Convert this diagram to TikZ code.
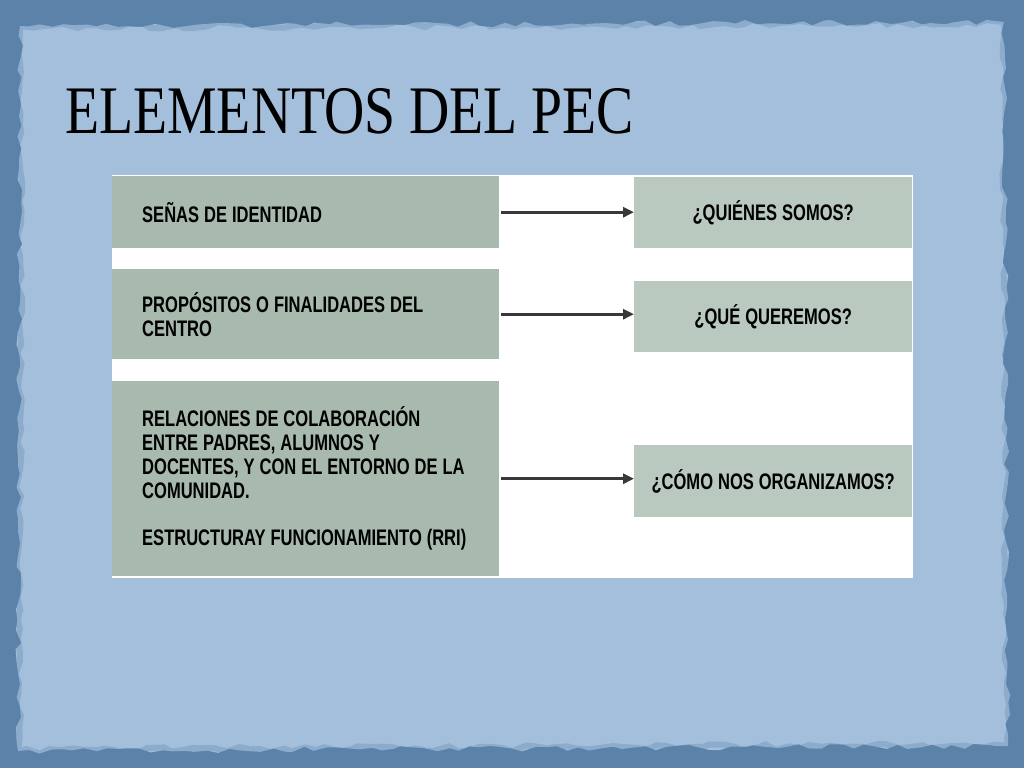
\documentclass[tikz,border=0pt]{standalone}
\usepackage{fontspec}
\usetikzlibrary{arrows.meta,decorations.pathmorphing}
\newfontfamily\titlefont[FakeStretch=0.82]{Liberation Serif}
\newfontfamily\boxfont[FakeStretch=0.735]{Liberation Sans}
\definecolor{outerblue}{HTML}{5B83AA}
\definecolor{paperblue}{HTML}{A3BFDC}
\definecolor{leftgray}{HTML}{A8BAAE}
\definecolor{rightgray}{HTML}{B9C9BF}
\definecolor{arrowgray}{HTML}{383838}
\begin{document}
\begin{tikzpicture}[x=1pt,y=-1pt]

	\tikzstyle{l-box}=[fill=leftgray,anchor=north west,minimum width=387pt,text width=327pt,inner xsep=30pt,inner ysep=0pt,align=flush left,font=\boxfont\bfseries\fontsize{22.5}{24}\selectfont,execute at begin node={\spaceskip=0.22em\relax}]
	\tikzstyle{r-box}=[fill=rightgray,anchor=north west,minimum width=278pt,text width=260pt,inner xsep=9pt,inner ysep=0pt,align=center,font=\boxfont\bfseries\fontsize{22.5}{24}\selectfont,execute at begin node={\spaceskip=0.22em\relax}]
	\tikzstyle{link}=[draw=arrowgray,line width=3pt,shorten <=2pt,-{Triangle[length=11pt,width=10pt]}]
	\tikzstyle{ragged}=[decorate,decoration={random steps,segment length=11pt,amplitude=3pt}]

	% background
	\useasboundingbox (0,0) rectangle (1024,768);
	\fill[outerblue] (0,0) rectangle (1024,768);
	\fill[paperblue,ragged] (20,26) -- (1004,22) -- (1008,746) -- (18,751) -- cycle;
	\draw[outerblue,line width=6pt,opacity=0.3,ragged] (20,26) -- (1004,22) -- (1008,746) -- (18,751) -- cycle;

	% title
	\node[anchor=base west,inner sep=0pt,font=\titlefont\fontsize{68}{68}\selectfont] (title) at (65,133) {ELEMENTOS DEL PEC};

	% chart
	\fill[white] (112,175) rectangle (913,578);

	% left column
	\node[l-box,minimum height=72pt]	(l1)	at (112,176)	{SEÑAS DE IDENTIDAD};
	\node[l-box,minimum height=90pt]	(l2)	at (112,269)	{PROPÓSITOS O FINALIDADES DEL\\CENTRO};
	\node[l-box,minimum height=195pt]	(l3)	at (112,381)	{RELACIONES DE COLABORACIÓN\\ENTRE PADRES, ALUMNOS Y\\DOCENTES, Y CON EL ENTORNO DE LA\\COMUNIDAD.\\[23pt]ESTRUCTURAY FUNCIONAMIENTO (RRI)};

	% right column
	\node[r-box,minimum height=71pt]	(r1)	at (634,177)	{¿QUIÉNES SOMOS?};
	\node[r-box,minimum height=71pt]	(r2)	at (634,281)	{¿QUÉ QUEREMOS?};
	\node[r-box,minimum height=72pt]	(r3)	at (634,445)	{¿CÓMO NOS ORGANIZAMOS?};

	% arrows
	\draw[link] (l1.east) -- (l1.east -| r1.west);
	\draw[link] (l2.east) -- (l2.east -| r2.west);
	\draw[link] (l3.east) -- (l3.east -| r3.west);
\end{tikzpicture}
\end{document}
